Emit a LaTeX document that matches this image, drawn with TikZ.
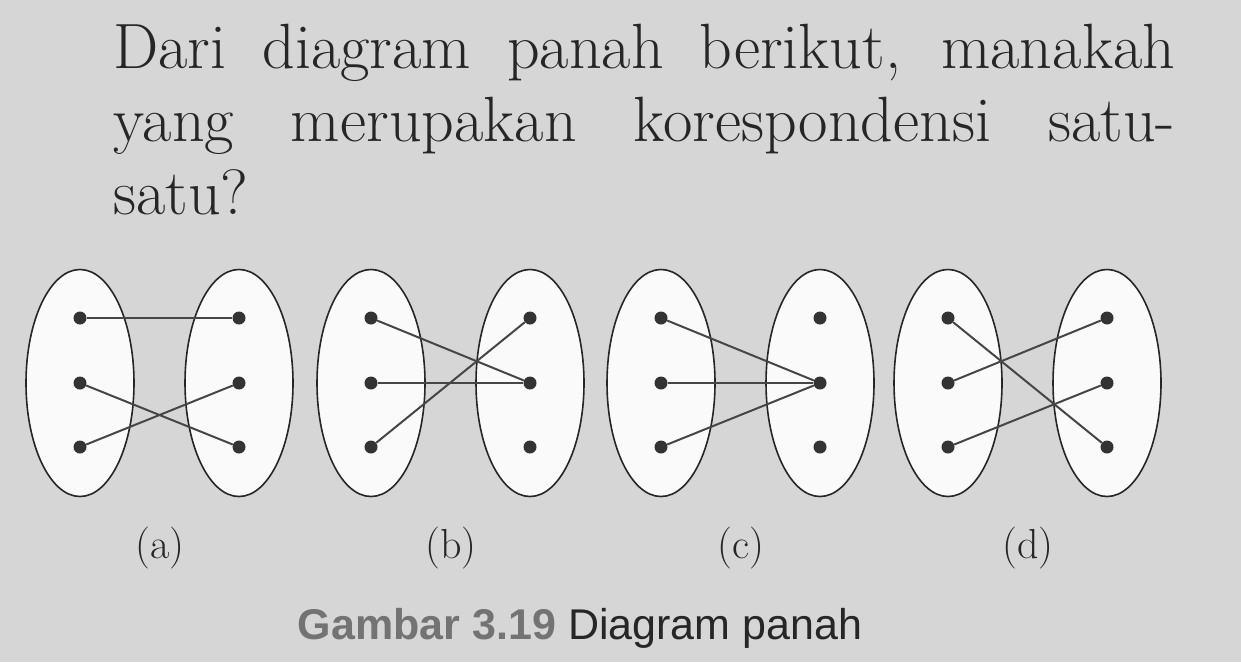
\documentclass[tikz,border=0pt]{standalone}
\usepackage{xcolor}
\usepackage{fontspec}
\newfontfamily\captionfont{Liberation Sans}
\usepackage{tikz}
\usetikzlibrary{shapes.geometric}

\definecolor{paper}{RGB}{214,214,214}
\definecolor{inkline}{RGB}{70,70,70}

\begin{document}
\begin{tikzpicture}[
  x=1pt, y=-1pt,
  setshape/.style={ellipse, draw=black!85, line width=1.6pt, fill=white!96!gray, minimum width=108pt, minimum height=227pt, inner sep=0pt},
  dot/.style={circle, fill=black!80, minimum size=13pt, inner sep=0pt},
  link/.style={draw=inkline, line width=2pt},
  lbl/.style={font=\fontsize{42}{50}\selectfont, text=black!85}
]
\useasboundingbox (0,0) rectangle (1241,662);
\fill[paper] (0,0) rectangle (1241,662);

% the question
\node[anchor=north west, inner sep=0pt, text width=1062pt, align=justify,
  font=\fontsize{64}{73}\selectfont, text=black!85] (question) at (113,24)
  {Dari diagram panah berikut, manakah\linebreak yang merupakan korespondensi satu-\linebreak satu?};

% sets and their elements
\foreach \g/\x in {a/80, b/371, c/661, d/948} {
  \node[setshape] (\g L) at (\x,383) {};
  \node[setshape] (\g R) at (\x+159,383) {};
  \foreach \i/\y in {1/318, 2/383, 3/447} {
    \node[dot] (\g l\i) at (\x,\y) {};
    \node[dot] (\g r\i) at (\x+159,\y) {};
  }
  \node[lbl] (\g lab) at (\x+80,548) {(\g)};
}

% (a)
\draw[link] (al1) -- (ar1);
\draw[link] (al2) -- (ar3);
\draw[link] (al3) -- (ar2);
% (b)
\draw[link] (bl1) -- (br2);
\draw[link] (bl2) -- (br2);
\draw[link] (bl3) -- (br1);
% (c)
\draw[link] (cl1) -- (cr2);
\draw[link] (cl2) -- (cr2);
\draw[link] (cl3) -- (cr2);
% (d)
\draw[link] (dl1) -- (dr3);
\draw[link] (dl2) -- (dr1);
\draw[link] (dl3) -- (dr2);

\node[font=\captionfont\fontsize{43}{50}\selectfont] (caption) at (580,628)
  {\textcolor{black!55}{\bfseries Gambar 3.19} \textcolor{black!85}{Diagram panah}};
\end{tikzpicture}
\end{document}
